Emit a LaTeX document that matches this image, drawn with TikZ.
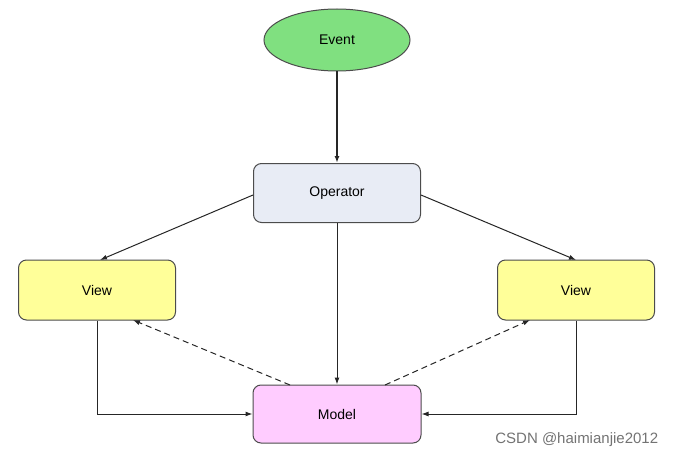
\documentclass[tikz,border=0pt]{standalone}
\usepackage{fontspec}
\setmainfont{Liberation Sans}
\usetikzlibrary{shapes.geometric,arrows.meta}
\begin{document}
\begin{tikzpicture}[x=1pt,y=-1pt,line width=1pt,
  box/.style={draw=black!70,rounded corners=8pt,minimum width=167pt,minimum height=59pt,font=\fontsize{14}{16}\selectfont},
  arr/.style={-{Latex[length=7pt,width=5pt]},black!85},
  dsh/.style={arr,dash pattern=on 6pt off 4pt}]
\useasboundingbox (0,0) rectangle (675,460);
\node[ellipse,draw=black!70,fill={rgb,255:red,128;green,224;blue,128},minimum width=146pt,minimum height=62pt,font=\fontsize{14}{16}\selectfont] (ev) at (337,40) {Event};
\node[box,fill={rgb,255:red,232;green,236;blue,245}] (op) at (337,193) {Operator};
\node[box,minimum width=157pt,minimum height=60pt,fill={rgb,255:red,255;green,255;blue,153}] (vl) at (97,290) {View};
\node[box,minimum width=157pt,minimum height=60pt,fill={rgb,255:red,255;green,255;blue,153}] (vr) at (576,290) {View};
\node[box,minimum width=168pt,minimum height=58pt,fill={rgb,255:red,255;green,204;blue,255}] (md) at (337,414) {Model};
\draw[arr,line width=2pt] (ev) -- (op);
\draw[arr] (op.west) ++(0,2) -- (100,260);
\draw[arr] (op.east) ++(0,2) -- (576,260);
\draw[arr] (op) -- (md);
\draw[arr] (vl.south) |- (md.west);
\draw[arr] (vr.south) |- (md.east);
\draw[dsh] (290,385) -- (133,320);
\draw[dsh] (385,385) -- (530,320);
\node[text=black!55,font=\fontsize{15}{17}\selectfont,anchor=east] (wm) at (662,440) {CSDN @haimianjie2012};
\end{tikzpicture}
\end{document}
